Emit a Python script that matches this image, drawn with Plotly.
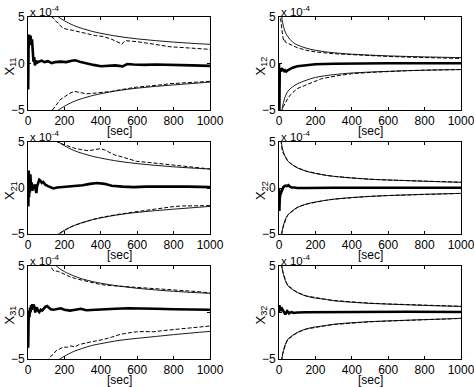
import plotly.graph_objects as go
from plotly.subplots import make_subplots

# ---------------- data (values in units of 1e-4) ----------------
# time grids for the theoretical (solid) bounds
t_left = [110, 120, 135, 150, 175, 200, 250, 300, 350, 400, 500, 600, 700, 800, 900, 1000]
t_right = [5, 10, 15, 20, 30, 40, 50, 75, 100, 150, 200, 250, 300, 400, 500, 600, 700, 800, 900, 1000]
x_ticks = [0, 200, 400, 600, 800, 1000]
y_ticks = [-5, 0, 5]

# X11
x11_up_solid = [6.2, 5.9, 5.6, 5.3, 4.9, 4.6, 4.1, 3.75, 3.47, 3.25, 2.9, 2.65, 2.46, 2.3, 2.17, 2.06]
x11_lo_solid = [-6.2, -5.9, -5.6, -5.3, -4.9, -4.6, -4.1, -3.75, -3.47, -3.25, -2.9, -2.65, -2.46, -2.3, -2.15, -2.0]
x11_t_dup = [110, 130, 145, 155, 167, 180, 194, 210, 249, 280, 322, 370, 414, 460, 500, 515, 533, 560, 597, 650, 689, 740, 780, 830, 872, 930, 1000]
x11_dup = [5.6, 5.0, 4.8, 4.5, 4.35, 4.0, 3.8, 3.7, 3.55, 3.4, 3.2, 3.0, 2.9, 2.6, 2.25, 2.07, 2.46, 2.42, 2.35, 2.2, 2.07, 1.92, 1.8, 1.74, 1.7, 1.6, 1.52]
x11_t_dlo = [120, 134, 150, 176, 200, 230, 255, 270, 300, 322, 360, 414, 460, 505, 550, 597, 640, 689, 740, 780, 830, 872, 930, 1000]
x11_dlo = [-5.6, -5.0, -4.6, -3.9, -3.6, -3.2, -3.0, -3.05, -3.2, -3.26, -3.2, -3.1, -3.0, -2.83, -2.65, -2.54, -2.47, -2.4, -2.28, -2.17, -2.1, -2.03, -1.97, -1.92]
x11_t_mid = [0, 1, 3, 6, 10, 14, 18, 22, 26, 30, 34, 38, 45, 52, 60, 75, 90, 110, 130, 150, 180, 210, 240, 260, 290, 320, 360, 400, 440, 480, 520, 545, 580, 640, 700, 760, 820, 900, 1000]
x11_mid = [0, -2.8, 1.5, 3.1, 2.5, 3.0, 2.0, 2.6, 1.0, 0.2, 0.7, -0.2, 0.3, 0.1, 0.2, 0.3, 0.15, 0.25, 0.05, 0.15, 0.2, 0.15, 0.3, 0.35, 0.15, 0.0, -0.15, -0.3, -0.25, -0.2, -0.3, -0.05, -0.1, -0.15, -0.1, -0.15, -0.2, -0.2, -0.25]

# X12
x12_up_solid = [8.0, 6.0, 5.0, 4.4, 3.6, 3.15, 2.85, 2.3, 2.0, 1.65, 1.42, 1.27, 1.16, 1.0, 0.9, 0.82, 0.76, 0.71, 0.67, 0.63]
x12_lo_solid = [-8.0, -6.2, -5.2, -4.6, -3.8, -3.3, -2.95, -2.5, -2.2, -1.8, -1.5, -1.33, -1.2, -1.02, -0.92, -0.84, -0.77, -0.72, -0.68, -0.65]
x12_t_dup = [5, 10, 15, 20, 25, 30, 35, 45, 50, 75, 100, 150, 200, 300, 400, 500, 600, 700, 800, 900, 1000]
x12_dup = [5.5, 4.5, 3.6, 3.0, 2.5, 2.6, 2.3, 2.2, 2.15, 1.9, 1.7, 1.42, 1.25, 1.05, 0.93, 0.84, 0.76, 0.69, 0.63, 0.58, 0.54]
x12_t_dlo = [8, 12, 16, 20, 25, 30, 35, 42, 50, 66, 100, 142, 200, 234, 325, 400, 507, 600, 700, 800, 900, 1000]
x12_dlo = [-6.0, -5.4, -5.0, -4.8, -4.6, -4.4, -4.3, -4.0, -3.7, -3.3, -2.7, -2.36, -1.85, -1.63, -1.3, -1.1, -0.95, -0.85, -0.78, -0.72, -0.68, -0.65]
x12_t_mid = [0, 2, 4, 6, 8, 10, 14, 18, 25, 30, 35, 40, 50, 60, 75, 100, 125, 150, 200, 300, 400, 600, 800, 1000]
x12_mid = [0, -5.0, -1.0, -0.5, -0.9, -0.6, -0.8, -0.6, -0.7, -0.9, -0.75, -0.85, -0.7, -0.6, -0.45, -0.3, -0.25, -0.15, -0.08, -0.03, 0.0, 0.02, 0.02, 0.02]

# X21
x21_up_solid = [6.2, 5.9, 5.6, 5.3, 4.9, 4.6, 4.1, 3.75, 3.47, 3.25, 2.9, 2.65, 2.46, 2.3, 2.17, 2.06]
x21_lo_solid = [-6.2, -5.9, -5.6, -5.3, -4.9, -4.6, -4.1, -3.75, -3.47, -3.25, -2.9, -2.65, -2.46, -2.3, -2.15, -2.0]
x21_t_dup = [130, 160, 200, 231, 260, 286, 331, 360, 396, 420, 445, 475, 505, 550, 597, 650, 689, 740, 780, 830, 872, 930, 1000]
x21_dup = [5.6, 5.0, 4.7, 4.45, 4.3, 4.2, 4.05, 4.15, 4.27, 4.15, 3.9, 3.6, 3.44, 3.15, 2.9, 2.8, 2.72, 2.62, 2.54, 2.4, 2.28, 2.17, 2.07]
x21_t_dlo = [150, 200, 250, 300, 350, 400, 450, 500, 550, 600, 650, 700, 750, 800, 850, 900, 950, 1000]
x21_dlo = [-5.3, -4.6, -4.1, -3.75, -3.45, -3.2, -3.0, -2.85, -2.7, -2.55, -2.42, -2.3, -2.15, -2.02, -1.95, -1.92, -1.9, -1.92]
x21_t_mid = [0, 2, 4, 6, 8, 10, 13, 16, 20, 24, 28, 33, 38, 42, 46, 50, 56, 62, 68, 76, 84, 95, 110, 125, 139, 160, 190, 220, 260, 300, 340, 380, 420, 460, 520, 580, 650, 720, 800, 880, 1000]
x21_mid = [0, -2.0, 1.9, -1.0, 1.2, -0.5, 1.5, 0.3, 0.6, -0.3, 0.3, -0.1, 0.4, -0.2, -0.55, 0.2, 0.5, 0.9, 0.8, 0.55, 0.65, 0.35, 0.2, 0.05, -0.05, 0.05, 0.1, 0.15, 0.25, 0.3, 0.45, 0.55, 0.45, 0.25, 0.15, 0.1, 0.15, 0.15, 0.2, 0.15, 0.1]

# X22
x22_up_solid = [7.0, 5.5, 4.7, 4.2, 3.6, 3.2, 2.9, 2.5, 2.2, 1.82, 1.58, 1.4, 1.27, 1.08, 0.95, 0.87, 0.8, 0.73, 0.67, 0.62]
x22_lo_solid = [-7.5, -6.0, -5.0, -4.4, -3.7, -3.2, -2.9, -2.45, -2.12, -1.75, -1.52, -1.36, -1.22, -1.03, -0.91, -0.82, -0.75, -0.68, -0.63, -0.58]
x22_t_dup = t_right
x22_dup = [6.5, 5.3, 4.4, 3.9, 3.5, 3.2, 2.88, 2.5, 2.22, 1.83, 1.58, 1.41, 1.27, 1.08, 0.95, 0.87, 0.8, 0.73, 0.67, 0.63]
x22_t_dlo = t_right
x22_dlo = [-7.0, -5.8, -4.9, -4.4, -3.75, -3.25, -2.9, -2.47, -2.12, -1.75, -1.52, -1.36, -1.22, -1.03, -0.91, -0.82, -0.75, -0.68, -0.63, -0.59]
x22_t_mid = [0, 2, 4, 6, 10, 14, 18, 24, 30, 36, 44, 52, 60, 70, 85, 100, 150, 200, 300, 500, 1000]
x22_mid = [0, -2.5, -1.2, -0.8, -0.55, -0.3, -0.1, 0.1, 0.2, 0.25, 0.2, 0.3, 0.15, 0.05, 0.05, 0.0, 0.0, 0.02, 0.02, 0.02, 0.02]

# X31
x31_up_solid = [6.1, 5.8, 5.4, 5.1, 4.7, 4.4, 3.95, 3.6, 3.35, 3.15, 2.84, 2.6, 2.43, 2.28, 2.16, 2.06]
x31_lo_solid = [-6.5, -6.2, -5.8, -5.4, -5.0, -4.7, -4.2, -3.85, -3.55, -3.35, -3.0, -2.78, -2.58, -2.38, -2.2, -2.03]
x31_t_dup = [115, 125, 135, 145, 160, 180, 200, 230, 260, 300, 350, 400, 450, 505, 550, 600, 650, 689, 740, 780, 830, 872, 930, 1000]
x31_dup = [5.4, 4.9, 4.6, 4.45, 4.45, 4.3, 4.1, 3.85, 3.65, 3.45, 3.2, 3.0, 2.9, 2.83, 2.75, 2.7, 2.65, 2.6, 2.5, 2.45, 2.4, 2.36, 2.25, 2.1]
x31_t_dlo = [100, 112, 125, 139, 155, 176, 195, 212, 235, 258, 280, 322, 370, 414, 460, 505, 550, 597, 640, 689, 740, 780, 830, 872, 930, 1000]
x31_dlo = [-5.3, -5.0, -4.7, -4.5, -4.1, -3.9, -3.7, -3.75, -3.6, -3.7, -3.45, -3.26, -3.1, -2.9, -2.65, -2.36, -2.2, -2.07, -2.05, -2.07, -1.95, -1.88, -1.8, -1.74, -1.6, -1.45]
x31_t_mid = [0, 1, 3, 5, 8, 11, 14, 17, 20, 24, 28, 32, 36, 40, 44, 48, 55, 62, 70, 78, 86, 95, 105, 115, 125, 140, 160, 180, 200, 230, 260, 290, 320, 360, 420, 480, 550, 620, 700, 800, 900, 1000]
x31_mid = [0, -3.8, -1.0, 0.2, -0.5, 0.54, 0.0, 0.8, 0.3, 0.9, 0.5, 0.85, 0.2, 0.0, 0.4, 0.55, 0.2, 0.05, 0.3, 0.2, 0.4, 0.6, 0.7, 0.5, 0.35, 0.3, 0.35, 0.45, 0.3, 0.2, 0.3, 0.4, 0.25, 0.3, 0.35, 0.4, 0.45, 0.45, 0.4, 0.35, 0.35, 0.3]

# X32
x32_up_solid = [8.0, 6.0, 5.1, 4.5, 3.7, 3.2, 2.85, 2.45, 2.15, 1.76, 1.55, 1.42, 1.27, 1.1, 0.98, 0.9, 0.83, 0.76, 0.7, 0.65]
x32_lo_solid = [-8.0, -6.0, -5.1, -4.5, -3.7, -3.2, -2.85, -2.45, -2.15, -1.76, -1.55, -1.42, -1.27, -1.1, -0.98, -0.9, -0.83, -0.76, -0.7, -0.62]
x32_t_dup = t_right
x32_dup = [7.8, 5.9, 5.0, 4.45, 3.72, 3.22, 2.88, 2.48, 2.17, 1.78, 1.57, 1.44, 1.29, 1.12, 1.0, 0.92, 0.85, 0.78, 0.72, 0.67]
x32_t_dlo = t_right
x32_dlo = [-7.8, -5.9, -5.0, -4.45, -3.72, -3.22, -2.88, -2.48, -2.17, -1.78, -1.57, -1.44, -1.29, -1.12, -1.0, -0.92, -0.85, -0.78, -0.72, -0.64]
x32_t_mid = [0, 2, 5, 9, 13, 17, 21, 26, 30, 35, 40, 45, 50, 55, 62, 70, 80, 100, 150, 300, 500, 700, 1000]
x32_mid = [0, 0.8, 0.36, 0.45, 0.3, 0.4, 0.25, 0.1, -0.1, -0.2, 0.0, 0.15, 0.05, -0.1, 0.0, 0.05, -0.05, 0.0, 0.02, 0.05, 0.08, 0.08, 0.05]

panels = [
    (1, 1, "X<sub>11</sub>", t_left, x11_up_solid, x11_lo_solid, x11_t_dup, x11_dup, x11_t_dlo, x11_dlo, x11_t_mid, x11_mid),
    (1, 2, "X<sub>12</sub>", t_right, x12_up_solid, x12_lo_solid, x12_t_dup, x12_dup, x12_t_dlo, x12_dlo, x12_t_mid, x12_mid),
    (2, 1, "X<sub>21</sub>", t_left, x21_up_solid, x21_lo_solid, x21_t_dup, x21_dup, x21_t_dlo, x21_dlo, x21_t_mid, x21_mid),
    (2, 2, "X<sub>22</sub>", t_right, x22_up_solid, x22_lo_solid, x22_t_dup, x22_dup, x22_t_dlo, x22_dlo, x22_t_mid, x22_mid),
    (3, 1, "X<sub>31</sub>", t_left, x31_up_solid, x31_lo_solid, x31_t_dup, x31_dup, x31_t_dlo, x31_dlo, x31_t_mid, x31_mid),
    (3, 2, "X<sub>32</sub>", t_right, x32_up_solid, x32_lo_solid, x32_t_dup, x32_dup, x32_t_dlo, x32_dlo, x32_t_mid, x32_mid),
]

# ---------------- layout geometry (pixels) ----------------
W, H = 474, 387
col_px = [(28, 210), (279, 461)]
row_px = [(17, 110), (142, 234), (266, 359)]
FONT = "Liberation Sans, Arial, Helvetica, sans-serif"

fig = make_subplots(rows=3, cols=2)

for (r, c, lab, ts, up, lo, tdu, du, tdl, dl, tm, m) in panels:
    thin = dict(color="black", width=0.9)
    fig.add_trace(go.Scatter(x=ts, y=up, mode="lines", line=dict(thin, shape="spline")), row=r, col=c)
    fig.add_trace(go.Scatter(x=ts, y=lo, mode="lines", line=dict(thin, shape="spline")), row=r, col=c)
    dash = dict(color="black", width=1, dash="4px,2px")
    fig.add_trace(go.Scatter(x=tdu, y=du, mode="lines", line=dash), row=r, col=c)
    fig.add_trace(go.Scatter(x=tdl, y=dl, mode="lines", line=dash), row=r, col=c)
    fig.add_trace(go.Scatter(x=tm, y=m, mode="lines", line=dict(color="black", width=2.6)), row=r, col=c)

    idx = (r - 1) * 2 + c
    xa = "xaxis" if idx == 1 else f"xaxis{idx}"
    ya = "yaxis" if idx == 1 else f"yaxis{idx}"
    x0, x1 = col_px[c - 1]
    yt, yb = row_px[r - 1]
    common = dict(showline=True, linecolor="black", linewidth=1, mirror="ticks",
                  ticks="inside", ticklen=3, tickcolor="black", tickwidth=1,
                  showgrid=False, zeroline=False, automargin=False,
                  ticklabeloverflow="allow",
                  tickfont=dict(family=FONT, size=12, color="black"))
    fig.layout[xa].update(domain=[x0 / W, x1 / W], range=[0, 1000], tickvals=x_ticks, **common)
    fig.layout[ya].update(domain=[1 - yb / H, 1 - yt / H], range=[-5, 5], tickvals=y_ticks, **common)

    # "x 10^-4" multiplier
    fig.add_annotation(x=x0 / W, y=1 - (yt - 6.5) / H, xref="paper", yref="paper",
                       xanchor="left", yanchor="middle", showarrow=False,
                       text="x 10<sup>-4</sup>", font=dict(family=FONT, size=11.5, color="black"))
    # x axis label
    fig.add_annotation(x=(x0 + x1) / 2 / W, y=1 - (yb + 21) / H, xref="paper", yref="paper",
                       xanchor="center", yanchor="middle", showarrow=False,
                       text="[sec]", font=dict(family=FONT, size=12, color="black"))
    # y axis label
    fig.add_annotation(x=(x0 - 18) / W, y=1 - ((yt + yb) / 2 + 3) / H, xref="paper", yref="paper",
                       xanchor="center", yanchor="middle", showarrow=False, textangle=-90,
                       text=lab, font=dict(family=FONT, size=13, color="black"))

fig.update_layout(template="none", width=W, height=H, margin=dict(l=0, r=0, t=0, b=0, autoexpand=False),
                  paper_bgcolor="white", plot_bgcolor="white", showlegend=False)

fig.write_html("out.html", config={"displayModeBar": False},
               post_script="document.body.style.margin='0';")
